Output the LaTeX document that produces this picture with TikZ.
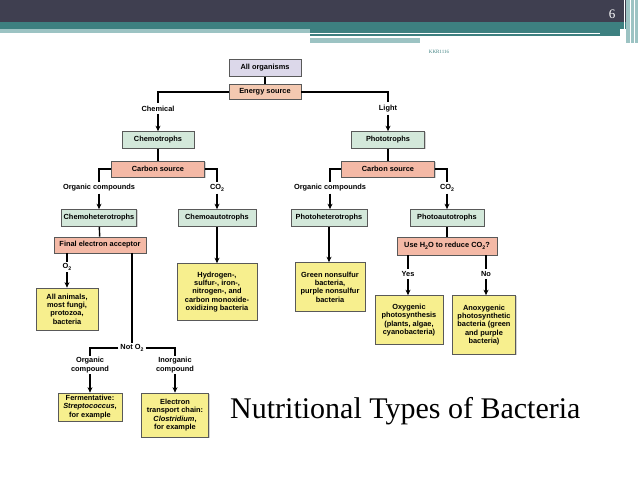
\documentclass[tikz,border=0pt]{standalone}
\usepackage{fontspec}
\setmainfont{Liberation Sans}
\newfontfamily\titlefont{Liberation Serif}
\usetikzlibrary{arrows.meta,shadows}
\definecolor{hdr}{HTML}{3F3F50}
\definecolor{teal1}{HTML}{3D8080}
\definecolor{teal2}{HTML}{9CC3C3}
\definecolor{lav}{HTML}{DCD8EA}
\definecolor{peach}{HTML}{F4C9B1}
\definecolor{salm}{HTML}{F4B9A6}
\definecolor{grn}{HTML}{D3E8DA}
\definecolor{yel}{HTML}{F7EF8E}
\newcommand\lowtwo{\raisebox{-0.4ex}{\fontsize{5.2}{5.2}\selectfont 2}}
\begin{document}
\begin{tikzpicture}[x=1pt,y=-1pt,
  every node/.style={font=\fontsize{7.4}{8.4}\selectfont\bfseries, inner sep=0pt, align=center},
  bx/.style={draw=gray!70!black, line width=0.7pt, drop shadow={opacity=0.35,shadow xshift=1pt,shadow yshift=-1pt}},
  gb/.style={bx, fill=grn},
  sb/.style={bx, fill=salm},
  yb/.style={bx, fill=yel},
  ln/.style={line width=1.4pt},
  arw/.style={draw, line width=1.4pt, -{Stealth[length=5.5pt,width=5pt]}}]
\useasboundingbox (0,0) rectangle (638,478);
% header
\fill[hdr] (0,0) rectangle (638,22);
\fill[teal1] (0,22) rectangle (638,29);
\fill[teal2] (0,29) rectangle (310,33);
\fill[teal1] (310,29) rectangle (620,36);
\fill[white] (310,33) rectangle (600,34.5);
\fill[teal2] (310,38) rectangle (420,43);
\fill[teal2] (626,0) rectangle (638,43);
\draw[white,line width=0.6pt] (624,0) -- (624,36) (630,0) -- (630,43) (634,0)--(634,43);
\node[font=\titlefont\fontsize{13}{14}\selectfont, text=white] (pg) at (612,14) {6};
\node[font=\titlefont\fontsize{5}{6}\selectfont, text=teal1] (kk) at (439,52) {KKR1116};
% top
\node[bx, fill=lav, minimum width=72pt, minimum height=17pt] (all) at (265,68) {All organisms};
\node[bx, fill=peach, minimum width=72pt, minimum height=15pt] (en) at (265,92) {Energy source};
\draw[ln] (all) -- (en);
\node (chem) at (158,109) {Chemical};
\node (light) at (388,109) {Light};
\draw[ln] (en.west) -| ([yshift=3pt]chem.north);
\draw[ln] (en.east) -| ([yshift=3pt]light.north);
% left branch
\node[gb, minimum width=72pt, minimum height=17pt] (cht) at (158,140) {Chemotrophs};
\draw[arw] ([yshift=-2pt]chem.south) -- (cht.north);
\node[sb, minimum width=93pt, minimum height=16pt] (cs1) at (158,169) {Carbon source};
\draw[ln] (cht) -- (cs1);
\node (oc1) at (99,188) {Organic compounds};
\node (co1) at (217,188) {CO\lowtwo};
\draw[ln] (cs1.west) -| ([yshift=2pt]oc1.north);
\draw[ln] (cs1.east) -| ([yshift=2pt]co1.north);
\node[gb, minimum width=75pt, minimum height=17pt] (chh) at (99,218) {Chemoheterotrophs};
\node[gb, minimum width=78pt, minimum height=17pt] (cha) at (217,218) {Chemoautotrophs};
\draw[arw] ([yshift=-2pt]oc1.south) -- (chh.north);
\draw[arw] ([yshift=-2pt]co1.south) -- (cha.north);
\node[sb, minimum width=92pt, minimum height=16pt] (fea) at (100,245) {Final electron acceptor};
\draw[ln] (chh) -- (fea);
\node[yb, minimum width=80pt, minimum height=57pt] (hyd) at (217,292) {Hydrogen-,\\sulfur-, iron-,\\nitrogen-, and\\carbon monoxide-\\oxidizing bacteria};
\draw[arw] (cha.south) -- (hyd.north);
\node (o2) at (67,267) {O\lowtwo};
\coordinate (fo) at (67,253);
\draw[ln] (fo) -- ([yshift=1.5pt]o2.north);
\node[yb, minimum width=62pt, minimum height=42pt] (ani) at (67,309) {All animals,\\most fungi,\\protozoa,\\bacteria};
\draw[arw] ([yshift=-1.5pt]o2.south) -- (ani.north);
\node (no2) at (132,348) {Not O\lowtwo};
\coordinate (fn) at (132,253);
\draw[ln] (fn) -- ([yshift=1pt]no2.north);
\node (orc) at (90,365) {Organic\\compound};
\node (inc) at (175,365) {Inorganic\\compound};
\draw[ln] ([xshift=-2pt]no2.west) -| ([yshift=1.5pt]orc.north);
\draw[ln] ([xshift=2pt]no2.east) -| ([yshift=1.5pt]inc.north);
\node[yb, minimum width=64pt, minimum height=28pt] (fer) at (90,407) {Fermentative:\\\textit{Streptococcus},\\for example};
\node[yb, minimum width=67pt, minimum height=44pt] (etc) at (175,415) {Electron\\transport chain:\\\textit{Clostridium},\\for example};
\draw[arw] ([yshift=-1.5pt]orc.south) -- (fer.north);
\draw[arw] ([yshift=-1.5pt]inc.south) -- (etc.north);
% right branch
\node[gb, minimum width=73pt, minimum height=17pt] (pht) at (388,140) {Phototrophs};
\draw[arw] ([yshift=-2pt]light.south) -- (pht.north);
\node[sb, minimum width=93pt, minimum height=16pt] (cs2) at (388,169) {Carbon source};
\draw[ln] (pht) -- (cs2);
\node (oc2) at (330,188) {Organic compounds};
\node (co2) at (447,188) {CO\lowtwo};
\draw[ln] (cs2.west) -| ([yshift=2pt]oc2.north);
\draw[ln] (cs2.east) -| ([yshift=2pt]co2.north);
\node[gb, minimum width=76pt, minimum height=17pt] (phh) at (329,218) {Photoheterotrophs};
\node[gb, minimum width=74pt, minimum height=17pt] (pha) at (447,218) {Photoautotrophs};
\draw[arw] ([yshift=-2pt]oc2.south) -- (oc2.south |- phh.north);
\draw[arw] ([yshift=-2pt]co2.south) -- (pha.north);
\node[yb, minimum width=70pt, minimum height=49pt] (gns) at (330,287) {Green nonsulfur\\bacteria,\\purple nonsulfur\\bacteria};
\draw[arw] (phh.south) -- (phh.south |- gns.north);
\node[sb, minimum width=100pt, minimum height=18pt] (uh) at (447,246) {Use H\lowtwo O to reduce CO\lowtwo?};
\draw[ln] (pha) -- (uh);
\node (yes) at (408,274) {Yes};
\node (no) at (486,274) {No};
\draw[ln] (uh.south -| yes) -- ([yshift=2pt]yes.north);
\draw[ln] (uh.south -| no) -- ([yshift=2pt]no.north);
\node[yb, minimum width=68pt, minimum height=49pt] (oxy) at (409,320) {Oxygenic\\photosynthesis\\(plants, algae,\\cyanobacteria)};
\node[yb, minimum width=63pt, minimum height=59pt] (anx) at (484,325) {Anoxygenic\\photosynthetic\\bacteria (green\\and purple\\bacteria)};
\draw[arw] ([yshift=-2pt]yes.south) -- (yes.south |- oxy.north);
\draw[arw] ([yshift=-2pt]no.south) -- (no.south |- anx.north);
% title
\node[font=\titlefont\fontsize{30}{34}\selectfont\mdseries, anchor=west] (ttl) at (230,411) {Nutritional Types of Bacteria};
\end{tikzpicture}
\end{document}
